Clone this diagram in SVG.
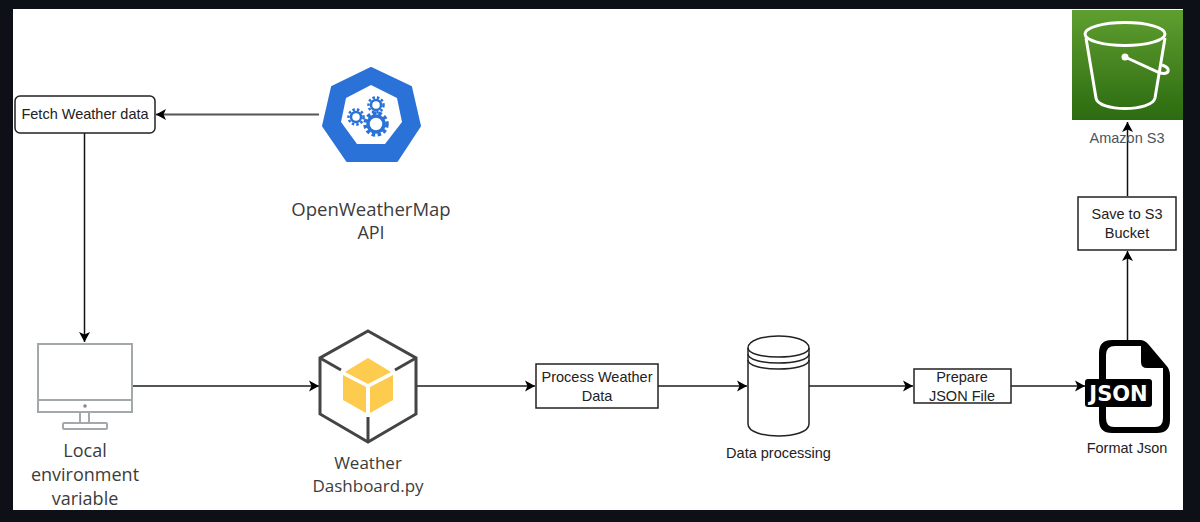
<svg xmlns="http://www.w3.org/2000/svg" width="1200" height="522" viewBox="0 0 1200 522">
<defs>
<marker id="ah" markerUnits="userSpaceOnUse" markerWidth="12" markerHeight="12" refX="10" refY="6" orient="auto"><path d="M0,0.500 L10,6 L0,11.500 L2.500,6 Z" fill="#000"/></marker>
<linearGradient id="s3g" x1="0" y1="0" x2="0" y2="1"><stop offset="0" stop-color="#5f9e2f"/><stop offset="1" stop-color="#2c6b10"/></linearGradient>
</defs>
<style>
.ui{font-family:"Open Sans","Noto Sans",sans-serif;font-size:18px;fill:#3c3c3c;text-anchor:middle}
.ds{font-family:"Liberation Sans",Arial,sans-serif;font-size:14.500px;fill:#222;text-anchor:middle}
.box{fill:#fff;stroke:#222;stroke-width:1.500}
.cn{fill:none;stroke:#555;stroke-width:2;marker-end:url(#ah)}
.cv{fill:none;stroke:#111;stroke-width:1.500;marker-end:url(#ah)}
.mon{fill:#fff;stroke:#a3a8aa;stroke-width:2}
.gear{fill:none;stroke:#2a71d8}
</style>
<rect width="1200" height="522" fill="#0d1117"/>
<rect x="13" y="9" width="1170" height="501" fill="#fff"/>
<g id="connectors">
<path class="cn" d="M319,114.500H156"/>
<path class="cv" d="M84.500,133V342"/>
<path class="cn" d="M132,386H319"/>
<path class="cn" d="M416,386H535"/>
<path class="cn" d="M658,386H747"/>
<path class="cn" d="M809,386H913"/>
<path class="cn" d="M1011,386H1085"/>
<path class="cv" d="M1127.500,341V251"/>
<path class="cv" d="M1127.500,196V122"/>
</g>
<g id="fetch"><rect class="box" x="15" y="96" width="140" height="37" rx="5"/><text class="ds" x="85" y="119">Fetch Weather data</text></g>
<g id="api">
<path d="M371,68L411,87L420,126L397,161H347L323,126L332,87Z" fill="#2a71d8" stroke="#2a71d8" stroke-width="2" stroke-linejoin="round"/>
<path d="M371,85L397,98L402,122L385,144H357L341,122L346,98Z" fill="#fff"/>
<circle class="gear" cx="376" cy="124" r="8" stroke-width="3.500"/><circle class="gear" cx="376" cy="124" r="11" stroke-width="3.500" stroke-dasharray="3.500 2.500"/>
<circle class="gear" cx="356" cy="117" r="5" stroke-width="2.500"/><circle class="gear" cx="356" cy="117" r="7.500" stroke-width="2.500" stroke-dasharray="2.500 2"/>
<circle class="gear" cx="376" cy="105" r="5" stroke-width="2.500"/><circle class="gear" cx="376" cy="105" r="7.500" stroke-width="2.500" stroke-dasharray="2.500 2"/>
<text class="ui" x="371" y="216" style="font-size:18.500px">OpenWeatherMap</text><text class="ui" x="371" y="239">API</text>
</g>
<g id="local">
<rect class="mon" x="38" y="344" width="94" height="68"/><path class="mon" d="M38,400H132"/><circle cx="85" cy="406" r="1.800" fill="#888"/>
<path class="mon" d="M80,412V423M89,412V423"/><rect class="mon" x="63" y="423" width="44" height="6" rx="1"/>
<text class="ui" x="85" y="457">Local</text><text class="ui" x="85" y="481">environment</text><text class="ui" x="85" y="505">variable</text>
</g>
<g id="dashboard">
<path d="M368,331L416,358V414L368,442L320,414V358Z" fill="#fff" stroke="#444" stroke-width="3"/>
<path d="M320,358L341,370M416,358L395,370M368,442V417" fill="none" stroke="#444" stroke-width="3"/>
<path d="M368,358L391,372L368,384L345,372Z" fill="#fdcb4e"/>
<path d="M343,375L366,387V413L343,400Z" fill="#fdcb4e"/>
<path d="M393,375L370,387V413L393,400Z" fill="#fdcb4e"/>
<text class="ui" x="368" y="469" style="font-size:17px">Weather</text><text class="ui" x="368" y="492" style="font-size:17px">Dashboard.py</text>
</g>
<g id="process"><rect class="box" x="536" y="364" width="122" height="44"/><text class="ds" x="597" y="382">Process Weather</text><text class="ds" x="597" y="401">Data</text></g>
<g id="store">
<path d="M748,348C748,332 809,332 809,348V424C809,440 748,440 748,424Z" fill="#fff" stroke="#222" stroke-width="1.500"/>
<path d="M748,348C748,360 809,360 809,348M748,354C748,366 809,366 809,354M748,360C748,372 809,372 809,360" fill="none" stroke="#222" stroke-width="1.500"/>
<text class="ds" x="778.500" y="458">Data processing</text>
</g>
<g id="prepare"><rect class="box" x="914" y="369" width="97" height="34"/><text class="ds" x="962" y="382">Prepare</text><text class="ds" x="962" y="401">JSON File</text></g>
<g id="json">
<path d="M1114,340H1140Q1145,340 1149,345L1165,364Q1170,369 1170,375V420Q1170,433 1157,433H1112Q1099,433 1099,420V353Q1099,340 1112,340Z" fill="#000"/>
<path d="M1115,346H1141V362Q1141,368 1147,368H1163V418Q1163,427 1155,427H1114Q1106,427 1106,418V355Q1106,346 1115,346Z" fill="#fff"/>
<rect x="1085" y="379" width="67" height="28" rx="3" fill="#000"/>
<text x="1118.500" y="401" font-family="'DejaVu Sans',sans-serif" font-size="21" font-weight="700" fill="#fff" text-anchor="middle">JSON</text>
<text class="ds" x="1127" y="453">Format Json</text>
</g>
<g id="save"><rect class="box" x="1078" y="197" width="98" height="53"/><text class="ds" x="1127" y="219">Save to S3</text><text class="ds" x="1127" y="238">Bucket</text></g>
<g id="s3">
<rect x="1072" y="10" width="111" height="110" fill="url(#s3g)"/>
<g fill="none" stroke="#fff" stroke-width="3">
<ellipse cx="1125" cy="34" rx="40" ry="11.500"/>
<path d="M1086,38L1096,98C1098,112 1152,112 1155,98L1165,38"/>
<path d="M1125,57L1160,73C1170,75 1171,68 1162,65"/>
</g>
<circle cx="1125" cy="57" r="3.500" fill="#fff"/>
<text class="ds" x="1127" y="143" style="fill:#4a5560">Amazon S3</text>
</g>
</svg>
